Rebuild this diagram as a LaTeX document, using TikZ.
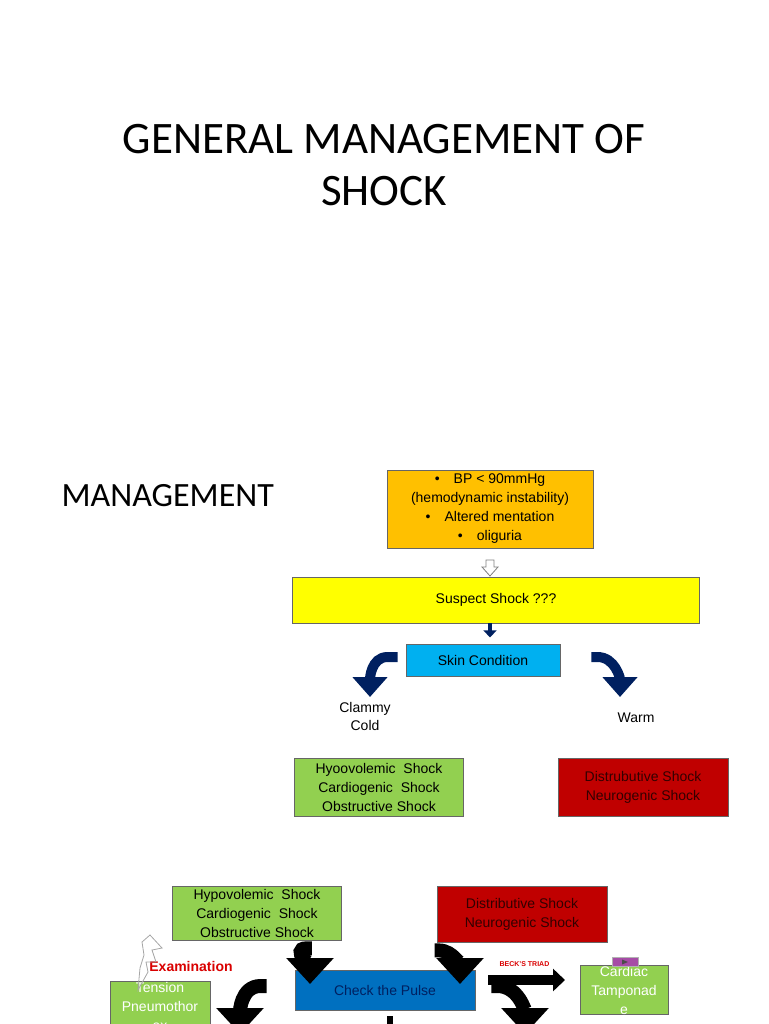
\documentclass[tikz,border=0pt]{standalone}
\usepackage{fontspec}
\setmainfont{Liberation Sans}
\newfontfamily\titlefont{Carlito}
\usetikzlibrary{arrows.meta,positioning}
\definecolor{boxorange}{HTML}{FFC000}
\definecolor{boxyellow}{HTML}{FFFF00}
\definecolor{boxcyan}{HTML}{00B0F0}
\definecolor{boxgreen}{HTML}{92D050}
\definecolor{boxred}{HTML}{C00000}
\definecolor{boxblue}{HTML}{0070C0}
\definecolor{navy}{HTML}{002060}
\tikzset{
  box/.style={draw=gray!80!black,line width=0.8pt,align=center,font=\fontsize{14}{19}\selectfont,inner sep=0pt},
  bentarrow/.style={line width=10pt,-{Triangle[width=34pt,length=20pt]}},
  bigbent/.style={line width=14pt,-{Triangle[width=46pt,length=26pt]}},
}
\begin{document}
\begin{tikzpicture}[x=1pt,y=-1pt]
\useasboundingbox (0,0) rectangle (768,1024);
\clip (0,0) rectangle (768,1024);
\node[font=\titlefont\fontsize{45}{52}\selectfont,align=center] (title) at (384,165) {GENERAL MANAGEMENT OF\\SHOCK};
\node[font=\titlefont\fontsize{34}{40}\selectfont,anchor=west] (mgmt) at (58,496) {MANAGEMENT};
% first chart
\node[box,fill=boxorange,minimum width=206,minimum height=78] (signs) at (490,509)
  {\textbullet\quad BP < 90mmHg\\(hemodynamic instability)\\\textbullet\quad Altered mentation\\\textbullet\quad oliguria};
\node[box,fill=boxyellow,minimum width=407,minimum height=46] (suspect) at (496,600) {Suspect Shock ???};
\node[box,fill=boxcyan,minimum width=154,minimum height=32] (skin) at (483,660) {Skin Condition};
\draw[gray,line width=0.8pt,fill=white] (486,560)--(494,560)--(494,567)--(498,567)--(490,576)--(482,567)--(486,567)--cycle;
\draw[navy,line width=4pt,-{Triangle[width=13pt,length=7pt]}] (suspect.south -| skin.north) ++(7,0) -- ++(0,14);
\coordinate (lt) at (370,697);
\coordinate (rt) at (620,697);
\draw[navy,bentarrow] (skin.west) ++(-8,-3) -- ++(-10,0) to[out=180,in=90] (lt);
\draw[navy,bentarrow] (skin.east) ++(31,-3) -- ++(6,0) to[out=0,in=90] (rt);
\node[align=center,font=\fontsize{14}{18}\selectfont] (cold) at (365,716) {Clammy\\Cold};
\node[font=\fontsize{14}{18}\selectfont] (warm) at (636,718) {Warm};
\node[box,fill=boxgreen,minimum width=169,minimum height=58] (hypo1) at (379,787) {Hyoovolemic\ \ Shock\\Cardiogenic\ \ Shock\\Obstructive Shock};
\node[box,fill=boxred,minimum width=170,minimum height=58,text=black!80!red] (dist1) at (643,787) {Distrubutive Shock\\Neurogenic Shock};
% second chart
\node[box,fill=boxgreen,minimum width=169,minimum height=54] (hypo2) at (257,913) {Hypovolemic\ \ Shock\\Cardiogenic\ \ Shock\\Obstructive Shock};
\node[box,fill=boxred,minimum width=170,minimum height=56,text=black!80!red] (dist2) at (522,914) {Distributive Shock\\Neurogenic Shock};
\node[box,fill=boxblue,minimum width=180,minimum height=40,text=navy] (pulse) at (385,990) {Check the Pulse};
\node[box,fill=boxgreen,minimum width=88,minimum height=40,text=white] (tamp) at (624,990) {Cardiac\\Tamponad\\e};
\node[box,fill=boxgreen,minimum width=100,minimum height=44,text=white] (tension) at (160,1006) {Tension\\Pneumothor\\ax};
\node[draw=gray!60,fill=violet!70,minimum width=26,minimum height=9,inner sep=0pt] (play) at (625,962) {};
\fill[black!70] (622,959.5) -- (628,962) -- (622,964.5) -- cycle;
\node[text=red!85!black,font=\bfseries\fontsize{14}{16}\selectfont] (exam) at (191,966) {Examination};
\draw[gray!70,line width=0.8pt] (150,935) -- (162,948) -- (152,950) -- (156,962) -- (146,962) -- (148,972) -- (138,990) -- (140,968) -- (144,955) -- (142,942) -- cycle;
\coordinate (bl) at (310,984);
\coordinate (br) at (460,984);
\draw[black,bigbent] (hypo2.south east) ++(-30,8) -- ++(-6,0) to[out=180,in=90] (bl);
\draw[black,bigbent] (dist2.south west) ++(-2,8) -- ++(4,0) to[out=0,in=90] (br);
\coordinate (bt) at (488,980);
\draw[black,line width=10pt,-{Triangle[width=22pt,length=12pt]}] (bt) -- ++(77,0);
\node[text=red!85!black,font=\bfseries\fontsize{7}{8}\selectfont,anchor=south west] (beck) at (496,970) {BECK'S TRIAD};
\coordinate (bbl) at (240,1034);
\coordinate (bbr) at (525,1034);
\draw[black,bigbent] (pulse.west) ++(-28,-4) -- ++(-6,0) to[out=180,in=90] (bbl);
\draw[black,bigbent] (pulse.east) ++(16,-4) -- ++(6,0) to[out=0,in=90] (bbr);
\draw[black,line width=6pt] (390,1016) -- (390,1030);
\end{tikzpicture}
\end{document}
